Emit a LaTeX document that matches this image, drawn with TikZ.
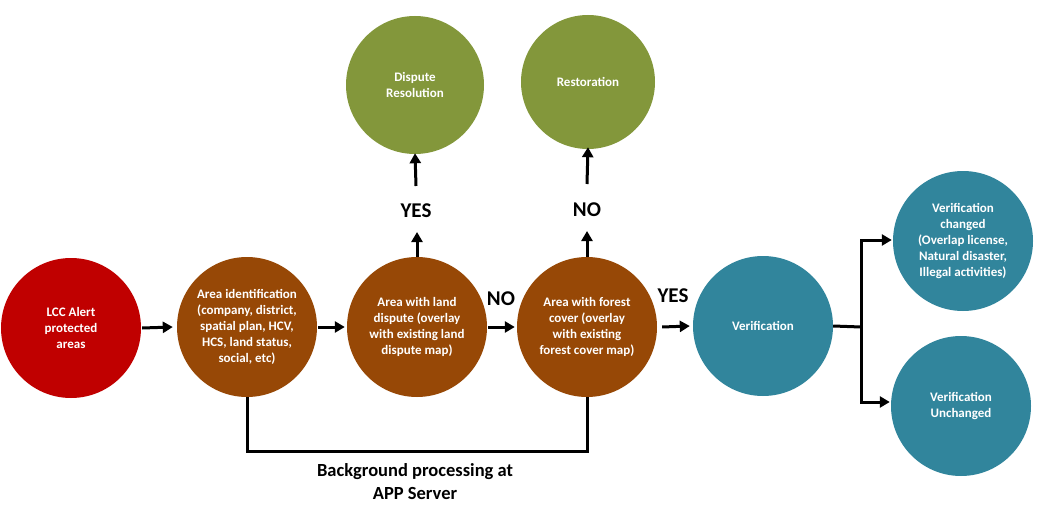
\documentclass[tikz,border=0pt]{standalone}
\usepackage{fontspec}
\setmainfont{Carlito}
\usetikzlibrary{arrows.meta}
\definecolor{cred}{HTML}{C00000}
\definecolor{cbrown}{HTML}{974806}
\definecolor{cgreen}{HTML}{83973B}
\definecolor{cteal}{HTML}{31859C}
\tikzset{
  bub/.style={circle, minimum size=140pt, inner sep=0pt, align=center, text=white,
    font=\fontsize{13}{16}\selectfont\bfseries},
  conn/.style={line width=3pt, -{Triangle[length=10pt,width=11pt]}},
  plain/.style={line width=3pt},
  lab/.style={font=\fontsize{21}{24}\selectfont\bfseries, text=black},
  blab/.style={font=\fontsize{18.5}{23}\selectfont\bfseries, text=black, align=center}
}
\begin{document}
\begin{tikzpicture}[x=1pt,y=-1pt]
\useasboundingbox (0,0) rectangle (1037,519);
\node[bub, fill=cred] (lcc) at (71,328) {LCC Alert\\protected\\areas};
\node[bub, fill=cbrown] (aid) at (247,327) {Area identification\\(company, district,\\spatial plan, HCV,\\HCS, land status,\\social, etc)};
\node[bub, fill=cbrown] (ald) at (417,327) {Area with land\\dispute (overlay\\with existing land\\dispute map)};
\node[bub, fill=cbrown] (afc) at (587,327) {Area with forest\\cover (overlay\\with existing\\forest cover map)};
\node[bub, fill=cteal] (ver) at (763,326) {Verification};
\node[bub, fill=cteal] (vch) at (963,241) {Verification\\changed\\(Overlap license,\\Natural disaster,\\Illegal activities)};
\node[bub, fill=cteal] (vun) at (961,406) {Verification\\Unchanged};
\node[bub, fill=cgreen, minimum size=138pt] (dr) at (415,85) {Dispute\\Resolution};
\node[bub, fill=cgreen, minimum size=134pt] (res) at (588,82) {Restoration};

\node[lab] (yes1) at (416,211) {YES};
\node[lab] (no1) at (587,210) {NO};
\node[lab] (no2) at (501,299) {NO};
\node[lab] (yes2) at (673,296) {YES};

\draw[conn] ([xshift=1pt]lcc.east) -- ([xshift=-4pt]aid.west);
\draw[conn] ([xshift=1pt]aid.east) -- ([xshift=-2pt]ald.west);
\draw[conn] ([xshift=1pt]ald.east) -- ([xshift=-2pt]afc.west);
\draw[conn] ([xshift=5pt]afc.east) -- ([xshift=-3pt]ver.west);

\draw[conn] (ald.north) -- (ald.north |- 0,232);
\draw[conn] (yes1.north |- 0,186) -- ([yshift=1pt]dr.south);
\draw[conn] (afc.north) -- (afc.north |- 0,231);
\draw[conn] (no1.north |- 0,184) -- ([yshift=2pt]res.south);

\coordinate (br) at (861,327);
\draw[plain] (ver.east) -- (br);
\draw[line width=3pt, -{Triangle[length=10pt,width=11pt]}] ([yshift=1.5pt]br |- 0,240) -- (br |- 0,240) -- ([xshift=-1pt]vch.west |- 0,240);
\draw[line width=3pt, -{Triangle[length=10pt,width=11pt]}] (br |- 0,240) -- (br |- 0,402) -- ([xshift=-1pt]vun.west |- 0,402);

\coordinate (bl) at (247,451);
\coordinate (brr) at (587,451);
\draw[plain, line join=miter] (aid.south) -- (bl) -- (brr) -- (afc.south);
\node[blab] (bg) at (415,482) {Background processing at\\APP Server};
\end{tikzpicture}
\end{document}
